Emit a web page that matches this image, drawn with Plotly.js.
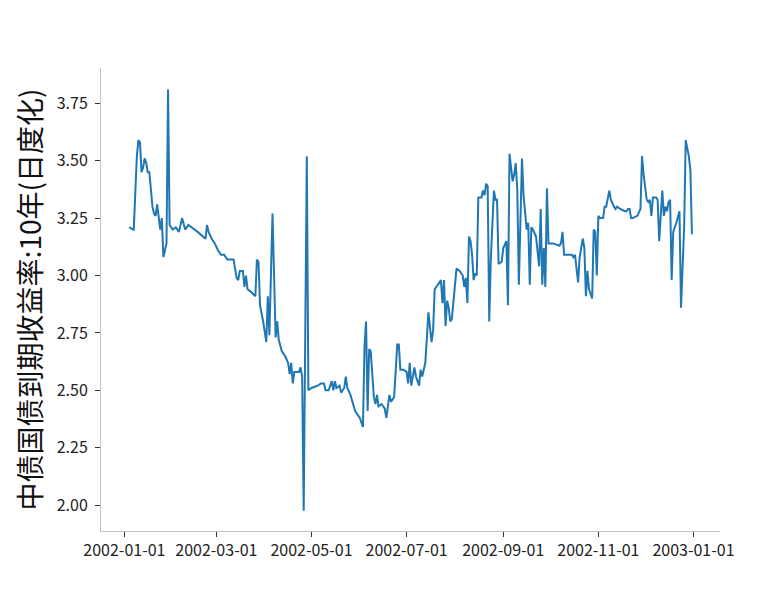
<!DOCTYPE html>
<html>
<head>
<meta charset="utf-8">
<script src="https://cdn.plot.ly/plotly-3.0.1.min.js"></script>
<style>
  html, body { margin: 0; padding: 0; background: #fff; }
  #chart { width: 761px; height: 595px; }
</style>
</head>
<body>
<div id="chart"></div>
<script>
// 中债国债到期收益率:10年, daily, 2002
const dates = [
  '2002-01-04', '2002-01-07', '2002-01-09', '2002-01-10', '2002-01-11', '2002-01-12', '2002-01-13', '2002-01-14',
  '2002-01-15', '2002-01-16', '2002-01-17', '2002-01-19', '2002-01-20', '2002-01-21', '2002-01-22', '2002-01-23',
  '2002-01-24', '2002-01-25', '2002-01-26', '2002-01-27', '2002-01-28', '2002-01-29', '2002-01-30', '2002-02-01',
  '2002-02-03', '2002-02-04', '2002-02-05', '2002-02-07', '2002-02-09', '2002-02-11', '2002-02-13', '2002-02-17',
  '2002-02-22', '2002-02-23', '2002-02-24', '2002-02-26', '2002-02-28', '2002-03-02', '2002-03-04', '2002-03-06',
  '2002-03-08', '2002-03-11', '2002-03-12', '2002-03-14', '2002-03-15', '2002-03-16', '2002-03-18', '2002-03-19',
  '2002-03-20', '2002-03-21', '2002-03-23', '2002-03-26', '2002-03-27', '2002-03-28', '2002-03-29', '2002-03-31',
  '2002-04-02', '2002-04-03', '2002-04-04', '2002-04-06', '2002-04-07', '2002-04-08', '2002-04-09', '2002-04-10',
  '2002-04-12', '2002-04-14', '2002-04-16', '2002-04-17', '2002-04-18', '2002-04-19', '2002-04-20', '2002-04-21',
  '2002-04-23', '2002-04-24', '2002-04-25', '2002-04-26', '2002-04-28', '2002-04-29', '2002-05-01', '2002-05-05',
  '2002-05-07', '2002-05-09', '2002-05-10', '2002-05-12', '2002-05-14', '2002-05-15', '2002-05-16', '2002-05-17',
  '2002-05-19', '2002-05-20', '2002-05-22', '2002-05-23', '2002-05-24', '2002-05-26', '2002-05-28', '2002-05-29',
  '2002-06-01', '2002-06-03', '2002-06-04', '2002-06-05', '2002-06-06', '2002-06-07', '2002-06-08', '2002-06-09',
  '2002-06-10', '2002-06-11', '2002-06-12', '2002-06-13', '2002-06-15', '2002-06-17', '2002-06-18', '2002-06-20',
  '2002-06-21', '2002-06-23', '2002-06-25', '2002-06-26', '2002-06-27', '2002-06-29', '2002-07-01', '2002-07-02',
  '2002-07-03', '2002-07-04', '2002-07-06', '2002-07-07', '2002-07-09', '2002-07-10', '2002-07-11', '2002-07-13',
  '2002-07-14', '2002-07-15', '2002-07-17', '2002-07-18', '2002-07-19', '2002-07-21', '2002-07-23', '2002-07-24',
  '2002-07-25', '2002-07-26', '2002-07-27', '2002-07-28', '2002-07-29', '2002-07-30', '2002-08-01', '2002-08-02',
  '2002-08-04', '2002-08-06', '2002-08-07', '2002-08-08', '2002-08-09', '2002-08-10', '2002-08-11', '2002-08-12',
  '2002-08-13', '2002-08-14', '2002-08-15', '2002-08-16', '2002-08-18', '2002-08-19', '2002-08-20', '2002-08-21',
  '2002-08-22', '2002-08-23', '2002-08-24', '2002-08-26', '2002-08-27', '2002-08-28', '2002-08-29', '2002-08-31',
  '2002-09-01', '2002-09-03', '2002-09-04', '2002-09-05', '2002-09-07', '2002-09-08', '2002-09-09', '2002-09-10',
  '2002-09-11', '2002-09-13', '2002-09-14', '2002-09-15', '2002-09-16', '2002-09-17', '2002-09-18', '2002-09-19',
  '2002-09-20', '2002-09-22', '2002-09-23', '2002-09-24', '2002-09-25', '2002-09-26', '2002-09-27', '2002-09-28',
  '2002-09-29', '2002-09-30', '2002-10-03', '2002-10-07', '2002-10-08', '2002-10-09', '2002-10-10', '2002-10-11',
  '2002-10-13', '2002-10-15', '2002-10-16', '2002-10-17', '2002-10-19', '2002-10-20', '2002-10-22', '2002-10-23',
  '2002-10-24', '2002-10-25', '2002-10-26', '2002-10-28', '2002-10-29', '2002-10-30', '2002-10-31', '2002-11-01',
  '2002-11-02', '2002-11-04', '2002-11-05', '2002-11-06', '2002-11-08', '2002-11-09', '2002-11-11', '2002-11-12',
  '2002-11-13', '2002-11-15', '2002-11-18', '2002-11-19', '2002-11-20', '2002-11-21', '2002-11-22', '2002-11-23',
  '2002-11-26', '2002-11-27', '2002-11-28', '2002-11-29', '2002-11-30', '2002-12-02', '2002-12-03', '2002-12-04',
  '2002-12-05', '2002-12-06', '2002-12-08', '2002-12-09', '2002-12-10', '2002-12-12', '2002-12-13', '2002-12-14',
  '2002-12-15', '2002-12-16', '2002-12-17', '2002-12-18', '2002-12-19', '2002-12-21', '2002-12-23', '2002-12-24',
  '2002-12-26', '2002-12-27', '2002-12-29', '2002-12-30', '2002-12-31'
];

const yields = [
  3.21, 3.20, 3.52, 3.59, 3.58, 3.45, 3.47, 3.51,
  3.49, 3.45, 3.45, 3.30, 3.27, 3.26, 3.31, 3.24,
  3.20, 3.25, 3.08, 3.11, 3.14, 3.81, 3.22, 3.20,
  3.21, 3.20, 3.19, 3.25, 3.20, 3.22, 3.21, 3.19,
  3.16, 3.22, 3.19, 3.16, 3.14, 3.11, 3.09, 3.09,
  3.07, 3.07, 3.07, 2.99, 2.98, 3.02, 3.02, 2.95,
  3.00, 2.94, 2.93, 2.91, 3.07, 3.06, 2.87, 2.80,
  2.71, 2.91, 2.74, 3.27, 2.96, 2.73, 2.80, 2.72,
  2.67, 2.65, 2.62, 2.57, 2.62, 2.53, 2.58, 2.58,
  2.58, 2.60, 2.56, 1.975, 3.52, 2.50, 2.51, 2.52,
  2.53, 2.53, 2.50, 2.50, 2.54, 2.50, 2.54, 2.51,
  2.52, 2.49, 2.51, 2.56, 2.51, 2.48, 2.43, 2.41,
  2.38, 2.34, 2.69, 2.80, 2.41, 2.68, 2.67, 2.54,
  2.47, 2.44, 2.48, 2.43, 2.44, 2.42, 2.38, 2.48,
  2.45, 2.47, 2.70, 2.70, 2.59, 2.59, 2.58, 2.53,
  2.62, 2.52, 2.60, 2.56, 2.52, 2.59, 2.56, 2.62,
  2.72, 2.84, 2.71, 2.76, 2.94, 2.96, 2.98, 2.88,
  2.98, 2.78, 2.89, 2.86, 2.80, 2.81, 2.94, 3.03,
  3.02, 3.00, 2.95, 2.99, 2.88, 3.17, 3.15, 3.09,
  2.98, 3.01, 3.00, 3.34, 3.34, 3.37, 3.35, 3.40,
  3.39, 2.80, 3.07, 3.37, 3.33, 3.33, 3.05, 3.06,
  3.12, 3.15, 2.87, 3.53, 3.41, 3.44, 3.49, 3.37,
  2.96, 3.51, 3.35, 3.28, 3.20, 3.23, 2.96, 3.21,
  3.20, 3.17, 3.11, 3.04, 3.29, 2.96, 3.12, 2.95,
  3.38, 3.14, 3.14, 3.13, 3.14, 3.19, 3.09, 3.09,
  3.09, 3.09, 3.08, 3.09, 2.97, 3.08, 3.16, 3.12,
  2.91, 3.02, 2.94, 2.90, 3.20, 3.19, 3.00, 3.26,
  3.25, 3.25, 3.30, 3.30, 3.37, 3.33, 3.30, 3.29,
  3.30, 3.29, 3.28, 3.28, 3.29, 3.29, 3.25, 3.25,
  3.26, 3.28, 3.29, 3.52, 3.44, 3.33, 3.32, 3.33,
  3.26, 3.34, 3.34, 3.33, 3.15, 3.37, 3.26, 3.30,
  3.28, 3.32, 3.33, 2.98, 3.19, 3.23, 3.28, 2.86,
  3.21, 3.59, 3.52, 3.46, 3.18
];

const xTickVals = ['2002-01-01', '2002-03-01', '2002-05-01', '2002-07-01', '2002-09-01', '2002-11-01', '2003-01-01'];
const yTickVals = [2.00, 2.25, 2.50, 2.75, 3.00, 3.25, 3.50, 3.75];

const FONT = 'Noto Sans CJK SC, sans-serif';

const trace = {
  type: 'scatter',
  mode: 'lines',
  x: dates,
  y: yields,
  line: { color: '#1f77b4', width: 2 },
  hoverinfo: 'skip',
};

const AXIS_BASE = {
  showgrid: false,
  zeroline: false,
  showline: true,
  linecolor: '#c4c4c4',
  linewidth: 1,
  ticks: 'outside',
  ticklen: 5,
  tickwidth: 1,
  tickcolor: '#333',
  tickfont: { family: FONT, size: 16, color: '#222' },
};

const layout = {
  width: 761,
  height: 595,
  paper_bgcolor: '#fff',
  plot_bgcolor: '#fff',
  showlegend: false,
  margin: { t: 68, r: 41, b: 64, l: 101 },
  xaxis: {
    ...AXIS_BASE,
    type: 'date',
    range: ['2001-12-17', '2003-01-18'],
    tickmode: 'array',
    tickvals: xTickVals,
    ticktext: xTickVals,
  },
  yaxis: {
    ...AXIS_BASE,
    range: [1.887, 3.904],
    tickmode: 'array',
    tickvals: yTickVals,
    ticktext: yTickVals.map(v => v.toFixed(2)),
    ticklabelstandoff: 4,
    title: {
      text: '中债国债到期收益率:10年(日度化)',
      font: { family: FONT, size: 28, color: '#111' },
      standoff: 6,
    },
  },
};

Plotly.newPlot('chart', [trace], layout, { displayModeBar: false, staticPlot: true });
</script>
</body>
</html>
